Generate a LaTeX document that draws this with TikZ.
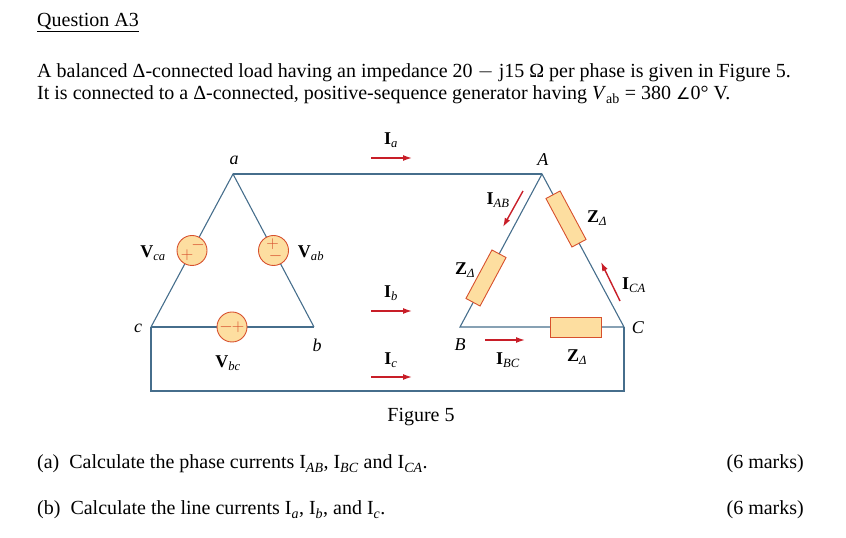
\documentclass[tikz,border=0pt]{standalone}
\usepackage{fontspec}
\setmainfont{Liberation Serif}
\newfontfamily\djv{DejaVu Sans}
\usetikzlibrary{arrows.meta}
\definecolor{wire}{RGB}{70,110,140}
\definecolor{srcfill}{RGB}{253,222,160}
\definecolor{srcedge}{RGB}{215,80,45}
\definecolor{arr}{RGB}{200,30,40}
\newcommand{\bv}[2]{\textbf{#1}\textsubscript{\textit{#2}}}
\begin{document}
\begin{tikzpicture}[x=1pt,y=1pt,
  w/.style={draw=wire,line width=1.1pt},
  src/.style={circle,draw=srcedge,fill=srcfill,line width=0.9pt,minimum size=30pt,inner sep=0pt},
  res/.style={rectangle,draw=srcedge,fill=srcfill,line width=0.9pt,minimum width=55pt,minimum height=16pt,inner sep=0pt},
  cur/.style={draw=arr,line width=1.4pt,-{Latex[length=9pt,width=6pt]}},
  sgn/.style={text=srcedge,font=\fontsize{17}{17}\selectfont,inner sep=0pt},
  lab/.style={font=\fontsize{18}{20}\selectfont,inner sep=0pt},
  txt/.style={anchor=base west,inner sep=0pt,font=\fontsize{20}{22}\selectfont}]
\useasboundingbox (0,0) rectangle (846,538);
% texts
\node[txt] (q) at (37,511) {\underline{Question A3}};
\node[txt] (l1) at (37,460) {A balanced Δ-connected load having an impedance 20 $-$ j15 Ω per phase is given in Figure 5.};
\node[txt] (l2) at (37,438) {It is connected to a Δ-connected, positive-sequence generator having \textit{V}\textsubscript{ab} = 380 {\djv\fontsize{16}{16}\selectfont ∠}0° V.};
\node[txt,anchor=base] (f5) at (421,116) {Figure 5};
\node[txt] (pa) at (37,69) {(a)\ \ Calculate the phase currents I\textsubscript{\textit{AB}}, I\textsubscript{\textit{BC}} and I\textsubscript{\textit{CA}}.};
\node[txt] (pb) at (37,23) {(b)\ \ Calculate the line currents I\textsubscript{\textit{a}}, I\textsubscript{\textit{b}}, and I\textsubscript{\textit{c}}.};
\node[txt,anchor=base east] (ma) at (804,69) {(6 marks)};
\node[txt,anchor=base east] (mb) at (804,23) {(6 marks)};
% circuit nodes
\coordinate (a) at (233,364);
\coordinate (A) at (542,364);
\coordinate (c) at (151,211);
\coordinate (b) at (314,211);
\coordinate (B) at (460,211);
\coordinate (C) at (624,211);
\coordinate (c2) at (151,147);
\coordinate (C2) at (624,147);
% wires
\draw[w] (c) -- (a) -- (b);
\draw[w] (a) -- (A);
\draw[w] (A) -- (B) -- (C) -- cycle;
\draw[w] (c) -- (b);
\draw[w] (c) -- (c2) -- (C2) -- (C);
% sources
\node[src] (vca) at (192,287.5) {};
\node[sgn] (vcam) at ([shift={(6,5)}]vca.center) {$-$};
\node[sgn] (vcap) at ([shift={(-5,-5)}]vca.center) {$+$};
\node[src] (vab) at (273.5,287.5) {};
\node[sgn] (vabp) at ([shift={(-1,6)}]vab.center) {$+$};
\node[sgn] (vabm) at ([shift={(2,-6)}]vab.center) {$-$};
\node[src] (vbc) at (232,211) {};
\node[sgn] (vbcm) at ([shift={(-6,0)}]vbc.center) {$-$};
\node[sgn] (vbcp) at ([shift={(6,0)}]vbc.center) {$+$};
% impedances
\node[res,rotate=61.8] (zab) at (486,260) {};
\node[res,rotate=118.2] (zca) at (566,319) {};
\node[res,minimum width=51pt,minimum height=20pt] (zbc) at (576,211) {};
% currents
\coordinate (ia1) at (371,380); \coordinate (ia2) at (412,380);
\draw[cur] (ia1) -- (ia2);
\coordinate (ib1) at (371,227); \coordinate (ib2) at (412,227);
\draw[cur] (ib1) -- (ib2);
\coordinate (ic1) at (371,161); \coordinate (ic2) at (412,161);
\draw[cur] (ic1) -- (ic2);
\coordinate (iab1) at (523,347); \coordinate (iab2) at (503,311);
\draw[cur] (iab1) -- (iab2);
\coordinate (ica1) at (620,237); \coordinate (ica2) at (601,276);
\draw[cur] (ica1) -- (ica2);
\coordinate (ibc1) at (485,198); \coordinate (ibc2) at (525,198);
\draw[cur] (ibc1) -- (ibc2);
% labels
\node[lab] (tIa) at (391,398) {\bv{I}{a}};
\node[lab] (tIb) at (391,245) {\bv{I}{b}};
\node[lab] (tIc) at (391,178) {\bv{I}{c}};
\node[lab] (tIab) at (498,338) {\bv{I}{AB}};
\node[lab] (tIca) at (634,253) {\bv{I}{CA}};
\node[lab] (tIbc) at (508,178) {\bv{I}{BC}};
\node[lab] (tz1) at (597,320) {\bv{Z}{Δ}};
\node[lab] (tz2) at (465,268) {\bv{Z}{Δ}};
\node[lab] (tz3) at (577,181) {\bv{Z}{Δ}};
\node[lab] (ta) at (234,378) {\textit{a}};
\node[lab] (tA) at (543,378) {\textit{A}};
\node[lab] (tc) at (138,210) {\textit{c}};
\node[lab] (tb) at (317,193) {\textit{b}};
\node[lab] (tB) at (460,193) {\textit{B}};
\node[lab] (tC) at (638,210) {\textit{C}};
\node[lab] (tVca) at (153,285) {\bv{V}{ca}};
\node[lab] (tVab) at (311,285) {\bv{V}{ab}};
\node[lab] (tVbc) at (228,175) {\bv{V}{bc}};
\end{tikzpicture}
\end{document}
